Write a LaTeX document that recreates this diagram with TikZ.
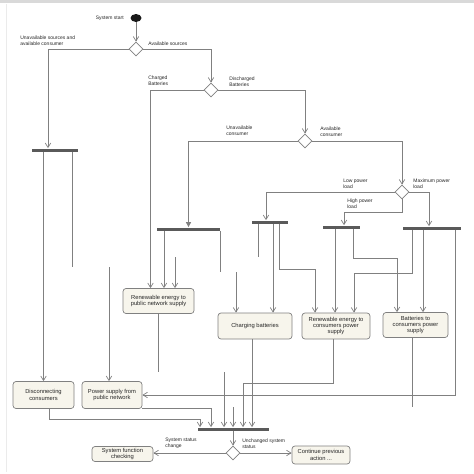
\documentclass[tikz,border=0pt]{standalone}
\usepackage{fontspec}
\setsansfont{Liberation Sans}
\usetikzlibrary{shapes.geometric,arrows.meta}
\definecolor{boxfill}{HTML}{F7F5EC}
\definecolor{linegray}{HTML}{808080}
\definecolor{bargray}{HTML}{5A5A5A}

\begin{document}
\begin{tikzpicture}[x=1pt, y=-1pt, line width=0.7pt, font=\sffamily\fontsize{5}{5.8}\selectfont]
        \tikzstyle{action}=[rectangle,rounded corners=3pt,draw=linegray,fill=boxfill,inner sep=1pt,align=center,text=black!85,font=\sffamily\fontsize{5.8}{6.4}\selectfont]
        \tikzstyle{decision}=[diamond,draw=linegray,fill=white,minimum width=14pt,minimum height=14pt,inner sep=0pt]
        \tikzstyle{bar}=[rectangle,fill=bargray,minimum height=3pt,inner sep=0pt]
        \tikzstyle{lbl}=[align=left,inner sep=0pt,text=black!85]
        \tikzstyle{flow}=[draw=linegray,-{Straight Barb[length=4.5pt,width=5.5pt]}]
        \tikzstyle{wire}=[draw=linegray]

        \useasboundingbox (0,0) rectangle (474,474);
        \fill[black!15] (0,0) rectangle (474,2.5);
        \draw[black!8] (6,4) -- (6,472);

        \node[ellipse,fill=black!90,minimum width=11pt,minimum height=8pt,inner sep=0pt] (start) at (136,18) {};
        \node[lbl, anchor=east] (lstart) at (124,18) {System start};

        \node[decision] (d1) at (136,49) {};
        \node[decision] (d2) at (211,90) {};
        \node[decision] (d3) at (305,141) {};
        \node[decision] (d4) at (402,192) {};
        \node[decision] (d5) at (233,453) {};

        \node[lbl, anchor=south west] (l1a) at (20,46) {Unavailable sources and\\available consumer};
        \node[lbl, anchor=south west] (l1b) at (148,46) {Available sources};
        \node[lbl, anchor=south west] (l2a) at (148,86) {Charged\\Batteries};
        \node[lbl, anchor=south west] (l2b) at (229,87) {Discharged\\Batteries};
        \node[lbl, anchor=south west] (l3a) at (226,136) {Unavailable\\consumer};
        \node[lbl, anchor=south west] (l3b) at (320,137) {Available\\consumer};
        \node[lbl, anchor=south west] (l4a) at (343,189) {Low power\\load};
        \node[lbl, anchor=south west] (l4b) at (413,189) {Maximum power\\load};
        \node[lbl, anchor=south west] (l4c) at (347,209) {High power\\load};
        \node[lbl, anchor=south west] (l5a) at (165,449) {System status\\change};
        \node[lbl, anchor=south west] (l5b) at (242,449) {Unchanged system\\status};

        \node[bar, minimum width=46pt] (barA) at (55,150) {};
        \node[bar, minimum width=63pt] (barB) at (188.5,229) {};
        \node[bar, minimum width=36pt] (barC) at (270,222) {};
        \node[bar, minimum width=37pt] (barD) at (341.5,227) {};
        \node[bar, minimum width=58pt] (barE) at (432,228) {};
        \node[bar, minimum width=71pt] (barJ) at (233.5,429) {};

        \node[action, minimum width=71pt, minimum height=25pt] (renpub) at (158.5,301) {Renewable energy to\\public network supply};
        \node[action, minimum width=74pt, minimum height=26pt] (charge) at (255,326) {Charging batteries};
        \node[action, minimum width=68pt, minimum height=26pt] (rencons) at (336,326) {Renewable energy to\\consumers power\\supply};
        \node[action, minimum width=65pt, minimum height=25pt] (batcons) at (415.5,325) {Batteries to\\consumers power\\supply};
        \node[action, minimum width=61pt, minimum height=27pt] (disc) at (43.5,395) {Disconnecting\\consumers};
        \node[action, minimum width=60pt, minimum height=27pt] (pubsup) at (112,395) {Power supply from\\public network};
        \node[action, minimum width=61pt, minimum height=15pt] (check) at (122.5,454) {System function\\checking};
        \node[action, minimum width=58pt, minimum height=18pt] (cont) at (321,455) {Continue previous\\action ...};

        \coordinate (sA1) at (72,267);
        \coordinate (sA2) at (109,267);
        \coordinate (sB1) at (175,257);
        \coordinate (sB2) at (220,272);
        \coordinate (sB3) at (236,272);
        \coordinate (sC1) at (258,257);
        \coordinate (sR1) at (158.5,372);
        \coordinate (sJ1) at (224,372);
        \coordinate (sT1) at (412.5,407);
        \coordinate (sJ2) at (233,407);

        \draw[flow] (start) -- (d1);
        \draw[flow] (d1.west) -| ([xshift=-7pt]barA.north);
        \draw[flow] (d1.east) -| (d2.north);
        \draw[flow] (d2.west) -| ([xshift=-8pt]renpub.north);
        \draw[flow] (d2.east) -| (d3.north);
        \draw[wire, -{Triangle[length=5pt,width=5pt]}] (d3.west) -| (barB.north);
        \draw[flow] (d3.east) -| (d4.north);
        \draw[flow] (d4.west) -| ([xshift=-4pt]barC.north);
        \draw[flow] (d4.south) -- ++(0,13) -| ([xshift=2.5pt]barD.north);
        \draw[flow] (d4.east) -| ([xshift=-3pt]barE.north);

        \draw[flow] (barA.south -| disc.north) -- (disc.north);
        \draw[wire] (barA.south -| sA1) -- (sA1);
        \draw[flow] (sA2) -- (sA2 |- pubsup.north);

        \draw[flow] ([xshift=5.5pt]renpub.north |- barB.south) -- ([xshift=5.5pt]renpub.north);
        \draw[flow] (sB1) -- (sB1 |- renpub.north);
        \draw[wire] (barB.south -| sB2) -- (sB2);
        \draw[flow] (sB3) -- (sB3 |- charge.north);

        \draw[wire] (barC.south -| sC1) -- (sC1);
        \draw[flow] ([xshift=18pt]charge.north |- barC.south) -- ([xshift=18pt]charge.north);
        \draw[flow] ([xshift=9pt]barC.south) -- ++(0,45) -| ([xshift=-21pt]rencons.north);

        \draw[flow] ([xshift=-1pt]rencons.north |- barD.south) -- ([xshift=-1pt]rencons.north);
        \draw[flow] ([xshift=11.5pt]barD.south) -- ++(0,29) -| ([xshift=-18.5pt]batcons.north);

        \draw[flow] ([xshift=-20pt]barE.south) -- ++(0,43) -| ([xshift=18pt]rencons.north);
        \draw[flow] ([xshift=7.5pt]batcons.north |- barE.south) -- ([xshift=7.5pt]batcons.north);
        \draw[flow] ([xshift=23pt]barE.south) |- (pubsup.east);

        \draw[wire] (renpub.south) -- (sR1);
        \draw[flow] (sJ1) -- (sJ1 |- barJ.north);
        \draw[flow] ([xshift=-3pt]charge.south) -- ([xshift=-3pt]charge.south |- barJ.north);
        \draw[flow] ([xshift=-3pt]rencons.south) -- ++(0,44) -| ([xshift=9.5pt]barJ.north);
        \draw[wire] (batcons.south -| sT1) -- (sT1);
        \draw[flow] (sJ2) -- (sJ2 |- barJ.north);
        \draw[flow] ([xshift=5.5pt]disc.south) -- ++(0,10) -| ([xshift=-33.5pt]barJ.north);
        \draw[flow] ([yshift=1pt]pubsup.south east) -| ([xshift=-22.5pt]barJ.north);

        \draw[flow] (barJ.south -| d5.north) -- (d5.north);
        \draw[flow] (d5.west) -- (d5.west -| check.east);
        \draw[flow] (d5.east) -- (d5.east -| cont.west);
    \end{tikzpicture}
\end{document}
